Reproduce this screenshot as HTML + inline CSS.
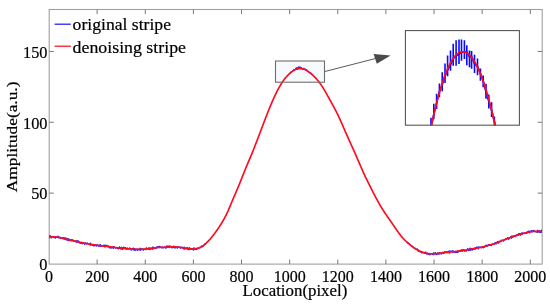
<!DOCTYPE html><html><head><meta charset="utf-8"><style>html,body{margin:0;padding:0;background:#fff;width:550px;height:305px;overflow:hidden}svg{display:block}</style></head><body><svg width="550" height="305" viewBox="0 0 550 305"><defs><clipPath id="cm"><rect x="49" y="9" width="493" height="255"/></clipPath><clipPath id="ci"><rect x="405.4" y="30.6" width="114.0" height="94.6"/></clipPath></defs><rect width="550" height="305" fill="#fff"/><rect x="275.5" y="61" width="49" height="21.2" fill="#f7fafd"/><rect x="49.2" y="9.5" width="493.00000000000006" height="254.60000000000002" fill="none" stroke="#a0a0a0" stroke-width="1.1"/><path d="M97.13,264.1v-4.6M97.13,9.5v4.6M145.26,264.1v-4.6M145.26,9.5v4.6M193.39,264.1v-4.6M193.39,9.5v4.6M241.52,264.1v-4.6M241.52,9.5v4.6M289.65,264.1v-4.6M289.65,9.5v4.6M337.78,264.1v-4.6M337.78,9.5v4.6M385.91,264.1v-4.6M385.91,9.5v4.6M434.04,264.1v-4.6M434.04,9.5v4.6M482.17,264.1v-4.6M482.17,9.5v4.6M530.30,264.1v-4.6M530.30,9.5v4.6M49.2,193.13h4.6M542.2,193.13h-4.6M49.2,122.27h4.6M542.2,122.27h-4.6M49.2,51.40h4.6M542.2,51.40h-4.6" stroke="#7a7a7a" stroke-width="1" fill="none"/><g clip-path="url(#cm)"><g fill="none" stroke="#2020ff" stroke-width="0.9" stroke-linejoin="round"><polyline points="49.00,238.66 49.25,235.46 49.50,237.40 49.75,236.50 50.00,236.58 50.25,236.77 50.50,235.36 50.75,236.72 51.00,236.13 51.25,238.49 51.50,237.08 51.75,236.55 52.00,236.60 52.25,236.24 52.50,235.88 52.75,236.47 53.00,237.25 53.25,236.60 53.50,237.68 53.75,236.64 54.00,236.85 54.25,238.22 54.50,237.33 54.75,236.41 55.00,236.71 55.25,237.38 55.50,238.50 55.75,236.71 56.00,236.76 56.25,237.89 56.50,236.26 56.75,236.82 57.00,237.89 57.25,237.66 57.50,237.28 57.75,237.83 58.00,235.75 58.25,238.22 58.50,236.56 58.75,236.01 59.00,237.74 59.25,238.15 59.50,237.23 59.75,236.75 60.00,237.75 60.25,237.74 60.50,239.04 60.75,238.55 61.00,238.14 61.25,238.98 61.50,237.92 61.75,237.37 62.00,238.72 62.25,238.78 62.50,238.16 62.75,237.74 63.00,238.66 63.25,237.01 63.50,239.17 63.75,239.06 64.00,237.30 64.25,238.81 64.50,237.99 64.75,239.52 65.00,237.40 65.25,238.19 65.50,239.64 65.75,240.08 66.00,237.62 66.25,238.77 66.50,239.53 66.75,238.78 67.00,240.73 67.25,238.39 67.50,239.77 67.75,238.62 68.00,240.79 68.25,239.61 68.50,239.36 68.75,238.26 69.00,241.24 69.25,240.49 69.50,240.55 69.75,240.93 70.00,240.30 70.25,239.51 70.50,239.42 70.75,239.48 71.00,241.40 71.25,239.02 71.50,239.82 71.75,240.11 72.00,240.63 72.25,240.99 72.50,239.47 72.75,239.12 73.00,240.65 73.25,241.75 73.50,241.42 73.75,241.01 74.00,240.61 74.25,241.19 74.50,240.78 74.75,241.75 75.00,240.43 75.25,241.28 75.50,241.13 75.75,241.74 76.00,241.53 76.25,242.91 76.50,242.73 76.75,242.79 77.00,240.06 77.25,241.35 77.50,241.18 77.75,242.21 78.00,240.31 78.25,242.88 78.50,242.85 78.75,240.89 79.00,241.23 79.25,241.44 79.50,242.22 79.75,242.79 80.00,243.82 80.25,242.20 80.50,243.08 80.75,242.62 81.00,244.04 81.25,243.23 81.50,243.83 81.75,241.80 82.00,242.61 82.25,242.13 82.50,244.18 82.75,243.51 83.00,242.74 83.25,242.66 83.50,243.52 83.75,242.55 84.00,242.41 84.25,243.68 84.50,244.85 84.75,243.15 85.00,242.92 85.25,242.44 85.50,242.34 85.75,244.00 86.00,244.33 86.25,243.64 86.50,243.96 86.75,243.82 87.00,243.88 87.25,242.45 87.50,243.43 87.75,243.97 88.00,243.22 88.25,243.52 88.50,243.26 88.75,243.72 89.00,244.80 89.25,243.73 89.50,243.99 89.75,244.87 90.00,244.76 90.25,245.72 90.50,242.69 90.75,245.05 91.00,243.90 91.25,244.48 91.50,245.13 91.75,245.38 92.00,245.38 92.25,244.63 92.50,245.95 92.75,244.32 93.00,244.48 93.25,245.34 93.50,244.19 93.75,246.28 94.00,245.65 94.25,246.35 94.50,244.81 94.75,244.53 95.00,245.06 95.25,245.59 95.50,244.48 95.75,245.37 96.00,245.06 96.25,246.53 96.50,244.58 96.75,246.12 97.00,244.68 97.25,244.45 97.50,244.71 97.75,244.33 98.00,245.54 98.25,246.36 98.50,245.64 98.75,246.08 99.00,247.01 99.25,245.85 99.50,245.82 99.75,245.44 100.00,244.30 100.25,246.42 100.50,244.23 100.75,246.40 101.00,245.84 101.25,246.88 101.50,245.85 101.75,245.21 102.00,246.29 102.25,245.50 102.50,245.87 102.75,246.09 103.00,245.96 103.25,245.94 103.50,245.40 103.75,245.99 104.00,244.61 104.25,246.07 104.50,245.17 104.75,247.26 105.00,247.42 105.25,244.73 105.50,246.47 105.75,246.25 106.00,245.46 106.25,246.89 106.50,246.03 106.75,244.89 107.00,246.26 107.25,246.39 107.50,246.64 107.75,245.48 108.00,247.15 108.25,247.28 108.50,245.64 108.75,246.10 109.00,246.64 109.25,246.24 109.50,248.32 109.75,246.98 110.00,245.93 110.25,246.16 110.50,246.83 110.75,248.49 111.00,246.79 111.25,247.09 111.50,247.46 111.75,247.00 112.00,248.64 112.25,246.63 112.50,247.79 112.75,247.30 113.00,247.74 113.25,246.18 113.50,248.82 113.75,247.17 114.00,247.34 114.25,246.51 114.50,246.73 114.75,247.90 115.00,248.31 115.25,248.13 115.50,248.57 115.75,248.16 116.00,247.58 116.25,248.33 116.50,248.14 116.75,247.55 117.00,248.32 117.25,248.84 117.50,247.94 117.75,247.44 118.00,248.42 118.25,249.39 118.50,247.65 118.75,247.78 119.00,247.77 119.25,249.01 119.50,246.36 119.75,248.30 120.00,249.06 120.25,247.30 120.50,249.38 120.75,248.55 121.00,247.61 121.25,248.31 121.50,246.78 121.75,247.67 122.00,249.78 122.25,247.43 122.50,249.83 122.75,248.20 123.00,249.18 123.25,248.36 123.50,246.76 123.75,247.86 124.00,248.56 124.25,247.39 124.50,247.24 124.75,248.79 125.00,247.90 125.25,246.99 125.50,247.92 125.75,249.32 126.00,248.15 126.25,249.43 126.50,249.99 126.75,248.67 127.00,247.66 127.25,247.53 127.50,248.69 127.75,249.52 128.00,249.00 128.25,249.27 128.50,248.41 128.75,249.09 129.00,248.43 129.25,248.58 129.50,247.74 129.75,247.51 130.00,248.50 130.25,247.97 130.50,248.12 130.75,249.60 131.00,248.92 131.25,250.63 131.50,249.88 131.75,248.51 132.00,249.79 132.25,249.43 132.50,248.52 132.75,250.14 133.00,248.47 133.25,247.59 133.50,249.91 133.75,248.66 134.00,250.56 134.25,248.66 134.50,248.20 134.75,250.66 135.00,248.32 135.25,249.48 135.50,250.61 135.75,249.42 136.00,249.26 136.25,249.43 136.50,250.11 136.75,248.63 137.00,249.92 137.25,249.89 137.50,250.98 137.75,249.08 138.00,248.57 138.25,250.06 138.50,249.04 138.75,249.66 139.00,249.52 139.25,250.45 139.50,248.80 139.75,249.31 140.00,247.79 140.25,248.58 140.50,250.75 140.75,248.75 141.00,248.72 141.25,248.25 141.50,249.85 141.75,249.47 142.00,248.24 142.25,249.88 142.50,249.50 142.75,249.92 143.00,248.66 143.25,250.76 143.50,249.56 143.75,249.06 144.00,248.68 144.25,248.90 144.50,249.86 144.75,248.83 145.00,250.00 145.25,249.53 145.50,250.19 145.75,249.69 146.00,248.88 146.25,247.33 146.50,249.14 146.75,249.54 147.00,248.96 147.25,249.27 147.50,248.33 147.75,248.38 148.00,247.85 148.25,249.86 148.50,248.76 148.75,248.15 149.00,247.38 149.25,248.39 149.50,249.76 149.75,248.86 150.00,247.78 150.25,249.65 150.50,249.62 150.75,249.19 151.00,248.99 151.25,249.28 151.50,248.71 151.75,248.88 152.00,247.47 152.25,249.46 152.50,248.30 152.75,249.64 153.00,246.46 153.25,248.63 153.50,248.85 153.75,247.64 154.00,248.32 154.25,248.55 154.50,248.37 154.75,247.35 155.00,247.68 155.25,248.68 155.50,248.89 155.75,247.81 156.00,247.77 156.25,247.85 156.50,248.57 156.75,246.68 157.00,246.42 157.25,247.69 157.50,246.57 157.75,247.01 158.00,247.60 158.25,247.93 158.50,246.52 158.75,248.18 159.00,245.86 159.25,247.92 159.50,246.00 159.75,246.26 160.00,247.97 160.25,247.01 160.50,246.65 160.75,246.95 161.00,247.76 161.25,247.28 161.50,247.29 161.75,248.25 162.00,246.65 162.25,246.86 162.50,246.80 162.75,248.31 163.00,248.14 163.25,248.40 163.50,247.20 163.75,247.08 164.00,247.98 164.25,246.85 164.50,247.94 164.75,247.84 165.00,246.55 165.25,247.09 165.50,247.05 165.75,248.70 166.00,248.73 166.25,247.03 166.50,247.12 166.75,245.50 167.00,247.28 167.25,247.07 167.50,246.10 167.75,247.75 168.00,245.63 168.25,246.82 168.50,247.13 168.75,245.87 169.00,247.74 169.25,247.91 169.50,245.70 169.75,245.67 170.00,247.46 170.25,246.88 170.50,245.80 170.75,246.62 171.00,246.77 171.25,246.73 171.50,247.60 171.75,247.19 172.00,248.43 172.25,248.07 172.50,247.44 172.75,247.79 173.00,248.01 173.25,247.46 173.50,245.72 173.75,247.60 174.00,246.90 174.25,248.30 174.50,246.94 174.75,247.34 175.00,247.17 175.25,248.40 175.50,247.06 175.75,246.68 176.00,247.22 176.25,246.57 176.50,247.12 176.75,247.00 177.00,247.27 177.25,248.63 177.50,246.71 177.75,247.14 178.00,246.95 178.25,247.76 178.50,246.14 178.75,246.61 179.00,247.22 179.25,247.77 179.50,247.28 179.75,246.91 180.00,246.62 180.25,247.87 180.50,248.73 180.75,247.78 181.00,247.69 181.25,247.96 181.50,246.77 181.75,247.37 182.00,247.44 182.25,247.98 182.50,247.73 182.75,246.73 183.00,248.82 183.25,249.36 183.50,247.68 183.75,248.31 184.00,248.23 184.25,248.72 184.50,246.78 184.75,249.53 185.00,247.74 185.25,249.30 185.50,248.30 185.75,247.93 186.00,248.18 186.25,249.14 186.50,247.62 186.75,248.09 187.00,248.03 187.25,246.98 187.50,249.68 187.75,249.08 188.00,248.58 188.25,249.66 188.50,247.82 188.75,248.63 189.00,250.26 189.25,249.63 189.50,247.21 189.75,247.23 190.00,247.92 190.25,249.81 190.50,248.47 190.75,248.71 191.00,249.47 191.25,248.15 191.50,249.15 191.75,249.69 192.00,249.40 192.25,249.35 192.50,248.46 192.75,249.47 193.00,248.62 193.25,250.18 193.50,250.60 193.75,248.33 194.00,247.39 194.25,248.59 194.50,249.29 194.75,249.87 195.00,249.87 195.25,248.18 195.50,248.15 195.75,249.93 196.00,247.82 196.25,249.68 196.50,248.49 196.75,249.30 197.00,249.18 197.25,249.18 197.50,249.15 197.75,247.56 198.00,248.56 198.25,248.25 198.50,248.40 198.75,249.05 199.00,247.76 199.25,247.33 199.50,247.22 199.75,247.43 200.00,248.11 200.25,246.84 200.50,248.14 200.75,247.39 201.00,246.89 201.25,246.00 201.50,246.93 201.75,247.08 202.00,245.32 202.25,247.07 202.50,247.18 202.75,246.19 203.00,246.10 203.25,246.69 203.50,246.17 203.75,244.75 204.00,245.06 204.25,244.79 204.50,244.59 204.75,243.52 205.00,244.66 205.25,243.72 205.50,243.91 205.75,243.54"/><polyline points="289.75,74.00 290.00,72.81 290.25,72.95 290.50,72.07 290.75,73.15 291.00,72.53 291.25,71.36 291.50,72.32 291.75,71.62 292.00,71.46 292.25,71.24 292.50,70.44 292.75,70.34 293.00,70.89 293.25,70.29 293.50,69.55 293.75,71.14 294.00,69.71 294.25,69.33 294.50,69.08 294.75,69.93 295.00,70.02 295.25,69.38 295.50,69.74 295.75,67.82 296.00,68.58 296.25,68.41 296.50,68.69 296.75,69.01 297.00,67.01 297.25,69.89 297.50,67.67 297.75,68.64 298.00,69.01 298.25,68.99 298.50,68.42 298.75,66.56 299.00,67.19 299.25,68.82 299.50,67.30 299.75,67.17 300.00,66.47 300.25,69.22 300.50,68.60 300.75,67.36 301.00,68.06 301.25,68.13 301.50,67.27 301.75,68.06 302.00,68.57 302.25,68.88 302.50,69.55 302.75,68.56 303.00,68.22 303.25,69.02 303.50,68.26 303.75,67.86 304.00,69.87 304.25,68.77 304.50,69.27 304.75,69.79 305.00,68.59 305.25,70.01 305.50,70.00 305.75,69.74 306.00,70.23 306.25,69.59 306.50,69.05 306.75,70.22 307.00,69.98 307.25,71.29 307.50,71.07 307.75,70.75 308.00,71.29 308.25,72.25 308.50,72.30 308.75,72.02 309.00,72.25 309.25,72.03 309.50,72.31 309.75,72.92 310.00,72.72 310.25,73.15 310.50,72.59 310.75,72.51 311.00,72.71 311.25,73.59 311.50,74.74 311.75,74.87 312.00,73.96 312.25,73.90 312.50,75.32 312.75,75.37"/><polyline points="407.25,241.63 407.50,243.00 407.75,243.12 408.00,243.89 408.25,242.68 408.50,242.82 408.75,244.10 409.00,242.99 409.25,243.74 409.50,243.76 409.75,244.01 410.00,243.82 410.25,244.84 410.50,245.69 410.75,245.61 411.00,245.82 411.25,245.58 411.50,246.77 411.75,246.47 412.00,246.96 412.25,245.69 412.50,246.95 412.75,246.28 413.00,247.33 413.25,247.43 413.50,246.82 413.75,247.77 414.00,248.55 414.25,248.32 414.50,248.55 414.75,247.81 415.00,248.08 415.25,247.96 415.50,248.92 415.75,249.76 416.00,249.42 416.25,249.29 416.50,248.69 416.75,249.88 417.00,249.56 417.25,248.63 417.50,248.80 417.75,249.89 418.00,249.63 418.25,251.57 418.50,250.54 418.75,249.89 419.00,250.41 419.25,252.05 419.50,250.30 419.75,251.69 420.00,251.55 420.25,252.45 420.50,251.85 420.75,251.24 421.00,252.05 421.25,251.80 421.50,252.61 421.75,251.89 422.00,253.44 422.25,252.04 422.50,252.56 422.75,251.76 423.00,252.48 423.25,252.48 423.50,252.67 423.75,253.35 424.00,252.24 424.25,252.05 424.50,253.75 424.75,252.65 425.00,252.39 425.25,253.99 425.50,253.74 425.75,251.59 426.00,252.86 426.25,253.91 426.50,254.01 426.75,252.89 427.00,254.74 427.25,252.73 427.50,253.26 427.75,253.61 428.00,253.53 428.25,254.28 428.50,254.50 428.75,253.59 429.00,254.90 429.25,253.07 429.50,253.51 429.75,255.25 430.00,253.83 430.25,254.71 430.50,253.38 430.75,253.54 431.00,253.69 431.25,253.95 431.50,253.50 431.75,253.82 432.00,254.40 432.25,254.88 432.50,253.90 432.75,254.38 433.00,254.60 433.25,252.82 433.50,252.37 433.75,255.21 434.00,254.93 434.25,253.79 434.50,254.04 434.75,252.87 435.00,252.46 435.25,253.95 435.50,252.33 435.75,254.44 436.00,253.00 436.25,253.85 436.50,255.12 436.75,255.10 437.00,253.27 437.25,254.44 437.50,252.55 437.75,252.92 438.00,253.74 438.25,254.61 438.50,252.85 438.75,253.81 439.00,253.39 439.25,252.15 439.50,253.12 439.75,254.54 440.00,253.10 440.25,253.60 440.50,253.86 440.75,252.44 441.00,254.15 441.25,254.36 441.50,254.41 441.75,254.13 442.00,252.53 442.25,252.39 442.50,252.19 442.75,252.05 443.00,252.11 443.25,253.66 443.50,254.05 443.75,252.16 444.00,253.41 444.25,251.55 444.50,252.35 444.75,251.72 445.00,251.13 445.25,252.59 445.50,252.59 445.75,252.13 446.00,251.99 446.25,251.56 446.50,252.28 446.75,251.84 447.00,252.56 447.25,251.25 447.50,252.49 447.75,252.72 448.00,253.34 448.25,253.14 448.50,252.35 448.75,251.55 449.00,250.54 449.25,252.10 449.50,253.33 449.75,253.53 450.00,250.43 450.25,251.33 450.50,251.66 450.75,251.02 451.00,252.09 451.25,251.93 451.50,251.41 451.75,251.81 452.00,250.40 452.25,250.93 452.50,250.97 452.75,252.54 453.00,250.27 453.25,251.50 453.50,252.36 453.75,251.59 454.00,252.34 454.25,251.01 454.50,251.95 454.75,252.34 455.00,253.09 455.25,252.13 455.50,252.73 455.75,251.45 456.00,251.50 456.25,252.78 456.50,251.88 456.75,252.59 457.00,251.93 457.25,252.85 457.50,252.82 457.75,250.48 458.00,252.76 458.25,251.55 458.50,251.56 458.75,251.01 459.00,251.72 459.25,250.06 459.50,250.37 459.75,250.31 460.00,251.21 460.25,251.74 460.50,251.55 460.75,251.19 461.00,250.31 461.25,249.24 461.50,251.12 461.75,250.86 462.00,251.01 462.25,251.92 462.50,250.46 462.75,250.41 463.00,248.96 463.25,251.00 463.50,250.43 463.75,249.78 464.00,250.73 464.25,249.44 464.50,249.84 464.75,251.80 465.00,250.89 465.25,251.00 465.50,250.80 465.75,250.66 466.00,250.22 466.25,251.54 466.50,249.90 466.75,250.56 467.00,249.69 467.25,249.53 467.50,248.22 467.75,248.17 468.00,251.05 468.25,250.95 468.50,249.23 468.75,249.53 469.00,250.05 469.25,248.60 469.50,250.96 469.75,248.47 470.00,248.70 470.25,247.72 470.50,250.56 470.75,249.25 471.00,250.57 471.25,248.23 471.50,249.36 471.75,249.09 472.00,249.15 472.25,250.48 472.50,250.44 472.75,250.06 473.00,248.46 473.25,249.55 473.50,249.90 473.75,249.17 474.00,249.14 474.25,249.02 474.50,247.77 474.75,248.73 475.00,249.88 475.25,247.56 475.50,248.47 475.75,249.09 476.00,247.12 476.25,248.15 476.50,246.74 476.75,247.66 477.00,246.91 477.25,247.32 477.50,247.63 477.75,247.77 478.00,247.79 478.25,246.37 478.50,249.26 478.75,247.59 479.00,246.83 479.25,247.19 479.50,247.95 479.75,246.77 480.00,247.22 480.25,247.13 480.50,247.94 480.75,246.78 481.00,247.76 481.25,247.62 481.50,247.13 481.75,248.26 482.00,247.16 482.25,246.08 482.50,247.28 482.75,247.07 483.00,246.87 483.25,247.03 483.50,248.27 483.75,246.91 484.00,247.03 484.25,246.37 484.50,247.61 484.75,246.40 485.00,245.70 485.25,245.28 485.50,246.68 485.75,246.79 486.00,244.77 486.25,245.43 486.50,246.49 486.75,246.75 487.00,244.72 487.25,245.41 487.50,246.37 487.75,245.16 488.00,245.16 488.25,245.01 488.50,244.30 488.75,245.36 489.00,245.51 489.25,244.01 489.50,245.20 489.75,245.97 490.00,245.15 490.25,245.70 490.50,244.38 490.75,245.92 491.00,244.04 491.25,246.13 491.50,244.19 491.75,243.90 492.00,243.68 492.25,244.02 492.50,243.88 492.75,243.65 493.00,243.88 493.25,244.64 493.50,244.75 493.75,243.66 494.00,244.88 494.25,242.97 494.50,242.87 494.75,242.71 495.00,244.03 495.25,242.21 495.50,242.26 495.75,244.31 496.00,244.56 496.25,244.17 496.50,241.84 496.75,242.92 497.00,243.47 497.25,242.79 497.50,241.36 497.75,242.25 498.00,241.10 498.25,241.36 498.50,243.58 498.75,242.63 499.00,240.88 499.25,240.75 499.50,242.14 499.75,241.22 500.00,242.02 500.25,240.98 500.50,241.21 500.75,241.45 501.00,240.37 501.25,239.70 501.50,240.03 501.75,240.31 502.00,240.59 502.25,240.59 502.50,240.49 502.75,240.83 503.00,239.64 503.25,241.32 503.50,241.52 503.75,240.32 504.00,240.08 504.25,240.81 504.50,240.24 504.75,239.79 505.00,239.41 505.25,238.87 505.50,238.43 505.75,239.77 506.00,240.09 506.25,238.23 506.50,238.91 506.75,239.04 507.00,238.44 507.25,238.08 507.50,238.27 507.75,237.10 508.00,238.35 508.25,238.07 508.50,239.63 508.75,238.86 509.00,237.75 509.25,237.92 509.50,239.20 509.75,239.02 510.00,237.80 510.25,237.46 510.50,236.32 510.75,237.12 511.00,237.16 511.25,236.61 511.50,238.49 511.75,235.62 512.00,236.82 512.25,237.17 512.50,237.10 512.75,238.01 513.00,235.45 513.25,235.89 513.50,236.48 513.75,236.42 514.00,235.91 514.25,235.52 514.50,236.91 514.75,235.12 515.00,235.41 515.25,236.95 515.50,237.11 515.75,236.33 516.00,234.84 516.25,234.77 516.50,234.64 516.75,234.37 517.00,234.87 517.25,236.17 517.50,235.23 517.75,234.35 518.00,234.25 518.25,233.85 518.50,235.72 518.75,233.21 519.00,234.80 519.25,233.31 519.50,233.55 519.75,233.12 520.00,235.07 520.25,234.13 520.50,235.62 520.75,233.19 521.00,233.07 521.25,234.40 521.50,234.31 521.75,233.53 522.00,232.24 522.25,234.84 522.50,234.04 522.75,233.83 523.00,232.92 523.25,233.90 523.50,232.82 523.75,233.26 524.00,233.00 524.25,234.16 524.50,232.63 524.75,232.68 525.00,233.85 525.25,233.04 525.50,232.77 525.75,232.52 526.00,233.48 526.25,232.05 526.50,232.95 526.75,234.06 527.00,232.78 527.25,231.70 527.50,231.29 527.75,232.39 528.00,231.16 528.25,230.78 528.50,231.45 528.75,231.11 529.00,232.76 529.25,230.69 529.50,233.27 529.75,231.20 530.00,231.91 530.25,232.35 530.50,231.91 530.75,232.30 531.00,230.76 531.25,230.09 531.50,231.38 531.75,230.03 532.00,230.97 532.25,232.29 532.50,231.25 532.75,230.87 533.00,230.37 533.25,231.10 533.50,231.19 533.75,229.91 534.00,231.58 534.25,230.34 534.50,231.49 534.75,230.88 535.00,232.18 535.25,232.05 535.50,231.29 535.75,231.18 536.00,231.68 536.25,232.53 536.50,232.25 536.75,231.44 537.00,231.59 537.25,232.73 537.50,229.84 537.75,231.81 538.00,230.51 538.25,232.55 538.50,230.89 538.75,231.24 539.00,230.36 539.25,231.36 539.50,232.07 539.75,232.86 540.00,230.22 540.25,230.97 540.50,232.99 540.75,232.22 541.00,231.37 541.25,231.85 541.50,229.80 541.75,232.84 542.00,231.53"/></g><polyline points="49.00,237.07 49.25,237.05 49.50,237.03 49.75,237.01 50.00,236.99 50.25,236.97 50.50,236.95 50.75,236.93 51.00,236.91 51.25,236.89 51.50,236.88 51.75,236.86 52.00,236.85 52.25,236.84 52.50,236.83 52.75,236.82 53.00,236.82 53.25,236.82 53.50,236.82 53.75,236.82 54.00,236.82 54.25,236.83 54.50,236.84 54.75,236.86 55.00,236.88 55.25,236.90 55.50,236.92 55.75,236.95 56.00,236.97 56.25,237.01 56.50,237.04 56.75,237.08 57.00,237.11 57.25,237.16 57.50,237.20 57.75,237.24 58.00,237.29 58.25,237.34 58.50,237.39 58.75,237.44 59.00,237.50 59.25,237.55 59.50,237.61 59.75,237.67 60.00,237.73 60.25,237.79 60.50,237.85 60.75,237.91 61.00,237.97 61.25,238.03 61.50,238.10 61.75,238.16 62.00,238.22 62.25,238.28 62.50,238.34 62.75,238.40 63.00,238.46 63.25,238.52 63.50,238.58 63.75,238.64 64.00,238.70 64.25,238.75 64.50,238.81 64.75,238.87 65.00,238.92 65.25,238.98 65.50,239.03 65.75,239.09 66.00,239.14 66.25,239.20 66.50,239.25 66.75,239.31 67.00,239.36 67.25,239.41 67.50,239.47 67.75,239.52 68.00,239.58 68.25,239.63 68.50,239.68 68.75,239.74 69.00,239.79 69.25,239.84 69.50,239.90 69.75,239.95 70.00,240.00 70.25,240.06 70.50,240.11 70.75,240.17 71.00,240.22 71.25,240.27 71.50,240.33 71.75,240.38 72.00,240.44 72.25,240.49 72.50,240.55 72.75,240.60 73.00,240.66 73.25,240.71 73.50,240.77 73.75,240.82 74.00,240.88 74.25,240.94 74.50,240.99 74.75,241.05 75.00,241.11 75.25,241.16 75.50,241.22 75.75,241.28 76.00,241.34 76.25,241.40 76.50,241.46 76.75,241.52 77.00,241.58 77.25,241.64 77.50,241.70 77.75,241.76 78.00,241.82 78.25,241.88 78.50,241.94 78.75,242.00 79.00,242.06 79.25,242.12 79.50,242.18 79.75,242.24 80.00,242.30 80.25,242.36 80.50,242.42 80.75,242.48 81.00,242.54 81.25,242.60 81.50,242.66 81.75,242.72 82.00,242.77 82.25,242.83 82.50,242.89 82.75,242.94 83.00,243.00 83.25,243.05 83.50,243.11 83.75,243.16 84.00,243.21 84.25,243.26 84.50,243.31 84.75,243.36 85.00,243.41 85.25,243.45 85.50,243.50 85.75,243.55 86.00,243.59 86.25,243.63 86.50,243.67 86.75,243.71 87.00,243.75 87.25,243.79 87.50,243.83 87.75,243.87 88.00,243.91 88.25,243.94 88.50,243.98 88.75,244.02 89.00,244.05 89.25,244.09 89.50,244.12 89.75,244.16 90.00,244.19 90.25,244.22 90.50,244.26 90.75,244.29 91.00,244.33 91.25,244.36 91.50,244.39 91.75,244.43 92.00,244.46 92.25,244.50 92.50,244.53 92.75,244.57 93.00,244.60 93.25,244.64 93.50,244.68 93.75,244.71 94.00,244.75 94.25,244.79 94.50,244.83 94.75,244.87 95.00,244.91 95.25,244.95 95.50,244.99 95.75,245.03 96.00,245.08 96.25,245.12 96.50,245.16 96.75,245.21 97.00,245.25 97.25,245.29 97.50,245.33 97.75,245.37 98.00,245.42 98.25,245.46 98.50,245.50 98.75,245.54 99.00,245.57 99.25,245.61 99.50,245.65 99.75,245.68 100.00,245.72 100.25,245.75 100.50,245.79 100.75,245.82 101.00,245.85 101.25,245.88 101.50,245.91 101.75,245.94 102.00,245.97 102.25,246.00 102.50,246.03 102.75,246.06 103.00,246.08 103.25,246.11 103.50,246.14 103.75,246.16 104.00,246.19 104.25,246.22 104.50,246.24 104.75,246.27 105.00,246.29 105.25,246.32 105.50,246.34 105.75,246.37 106.00,246.39 106.25,246.42 106.50,246.44 106.75,246.47 107.00,246.49 107.25,246.52 107.50,246.55 107.75,246.57 108.00,246.60 108.25,246.63 108.50,246.65 108.75,246.68 109.00,246.71 109.25,246.74 109.50,246.77 109.75,246.80 110.00,246.83 110.25,246.85 110.50,246.88 110.75,246.91 111.00,246.94 111.25,246.97 111.50,247.01 111.75,247.04 112.00,247.07 112.25,247.10 112.50,247.13 112.75,247.16 113.00,247.19 113.25,247.22 113.50,247.25 113.75,247.28 114.00,247.31 114.25,247.34 114.50,247.37 114.75,247.40 115.00,247.43 115.25,247.47 115.50,247.50 115.75,247.53 116.00,247.56 116.25,247.58 116.50,247.61 116.75,247.64 117.00,247.67 117.25,247.70 117.50,247.73 117.75,247.76 118.00,247.79 118.25,247.81 118.50,247.84 118.75,247.87 119.00,247.89 119.25,247.92 119.50,247.95 119.75,247.97 120.00,248.00 120.25,248.02 120.50,248.05 120.75,248.08 121.00,248.10 121.25,248.13 121.50,248.15 121.75,248.17 122.00,248.20 122.25,248.22 122.50,248.25 122.75,248.27 123.00,248.30 123.25,248.32 123.50,248.34 123.75,248.37 124.00,248.39 124.25,248.41 124.50,248.44 124.75,248.46 125.00,248.48 125.25,248.51 125.50,248.53 125.75,248.55 126.00,248.58 126.25,248.60 126.50,248.62 126.75,248.65 127.00,248.67 127.25,248.69 127.50,248.71 127.75,248.74 128.00,248.76 128.25,248.78 128.50,248.80 128.75,248.83 129.00,248.85 129.25,248.87 129.50,248.89 129.75,248.91 130.00,248.93 130.25,248.96 130.50,248.98 130.75,249.00 131.00,249.02 131.25,249.04 131.50,249.06 131.75,249.07 132.00,249.09 132.25,249.11 132.50,249.13 132.75,249.15 133.00,249.16 133.25,249.18 133.50,249.20 133.75,249.21 134.00,249.23 134.25,249.24 134.50,249.26 134.75,249.27 135.00,249.28 135.25,249.30 135.50,249.31 135.75,249.32 136.00,249.33 136.25,249.34 136.50,249.35 136.75,249.36 137.00,249.37 137.25,249.38 137.50,249.38 137.75,249.39 138.00,249.39 138.25,249.39 138.50,249.40 138.75,249.40 139.00,249.40 139.25,249.40 139.50,249.39 139.75,249.39 140.00,249.38 140.25,249.38 140.50,249.37 140.75,249.36 141.00,249.35 141.25,249.34 141.50,249.33 141.75,249.31 142.00,249.30 142.25,249.28 142.50,249.27 142.75,249.25 143.00,249.23 143.25,249.21 143.50,249.19 143.75,249.17 144.00,249.14 144.25,249.12 144.50,249.10 144.75,249.07 145.00,249.05 145.25,249.02 145.50,248.99 145.75,248.96 146.00,248.93 146.25,248.90 146.50,248.87 146.75,248.84 147.00,248.81 147.25,248.78 147.50,248.75 147.75,248.72 148.00,248.68 148.25,248.65 148.50,248.62 148.75,248.59 149.00,248.55 149.25,248.52 149.50,248.49 149.75,248.45 150.00,248.42 150.25,248.39 150.50,248.36 150.75,248.32 151.00,248.29 151.25,248.26 151.50,248.23 151.75,248.19 152.00,248.16 152.25,248.13 152.50,248.10 152.75,248.07 153.00,248.04 153.25,248.00 153.50,247.97 153.75,247.94 154.00,247.92 154.25,247.89 154.50,247.86 154.75,247.83 155.00,247.80 155.25,247.78 155.50,247.75 155.75,247.72 156.00,247.70 156.25,247.67 156.50,247.65 156.75,247.63 157.00,247.60 157.25,247.58 157.50,247.56 157.75,247.54 158.00,247.52 158.25,247.50 158.50,247.48 158.75,247.47 159.00,247.45 159.25,247.43 159.50,247.42 159.75,247.40 160.00,247.39 160.25,247.38 160.50,247.36 160.75,247.35 161.00,247.34 161.25,247.33 161.50,247.32 161.75,247.30 162.00,247.29 162.25,247.28 162.50,247.27 162.75,247.26 163.00,247.25 163.25,247.24 163.50,247.23 163.75,247.22 164.00,247.21 164.25,247.21 164.50,247.20 164.75,247.19 165.00,247.18 165.25,247.17 165.50,247.15 165.75,247.14 166.00,247.13 166.25,247.12 166.50,247.11 166.75,247.10 167.00,247.09 167.25,247.07 167.50,247.06 167.75,247.05 168.00,247.03 168.25,247.02 168.50,247.00 168.75,246.99 169.00,246.97 169.25,246.96 169.50,246.94 169.75,246.93 170.00,246.92 170.25,246.90 170.50,246.89 170.75,246.88 171.00,246.87 171.25,246.86 171.50,246.85 171.75,246.84 172.00,246.84 172.25,246.83 172.50,246.83 172.75,246.82 173.00,246.82 173.25,246.82 173.50,246.83 173.75,246.83 174.00,246.84 174.25,246.84 174.50,246.85 174.75,246.86 175.00,246.88 175.25,246.89 175.50,246.90 175.75,246.92 176.00,246.94 176.25,246.96 176.50,246.98 176.75,247.00 177.00,247.03 177.25,247.05 177.50,247.08 177.75,247.10 178.00,247.13 178.25,247.16 178.50,247.19 178.75,247.22 179.00,247.25 179.25,247.28 179.50,247.32 179.75,247.35 180.00,247.38 180.25,247.42 180.50,247.46 180.75,247.49 181.00,247.53 181.25,247.57 181.50,247.60 181.75,247.64 182.00,247.68 182.25,247.72 182.50,247.76 182.75,247.80 183.00,247.84 183.25,247.88 183.50,247.92 183.75,247.96 184.00,248.00 184.25,248.04 184.50,248.07 184.75,248.11 185.00,248.15 185.25,248.19 185.50,248.23 185.75,248.27 186.00,248.31 186.25,248.35 186.50,248.38 186.75,248.42 187.00,248.46 187.25,248.49 187.50,248.53 187.75,248.56 188.00,248.60 188.25,248.63 188.50,248.66 188.75,248.70 189.00,248.73 189.25,248.76 189.50,248.79 189.75,248.81 190.00,248.84 190.25,248.86 190.50,248.89 190.75,248.91 191.00,248.93 191.25,248.95 191.50,248.96 191.75,248.97 192.00,248.99 192.25,248.99 192.50,249.00 192.75,249.00 193.00,249.01 193.25,249.00 193.50,249.00 193.75,248.99 194.00,248.98 194.25,248.97 194.50,248.95 194.75,248.93 195.00,248.91 195.25,248.88 195.50,248.85 195.75,248.81 196.00,248.78 196.25,248.73 196.50,248.69 196.75,248.64 197.00,248.58 197.25,248.52 197.50,248.46 197.75,248.39 198.00,248.32 198.25,248.24 198.50,248.16 198.75,248.07 199.00,247.98 199.25,247.88 199.50,247.77 199.75,247.67 200.00,247.55 200.25,247.43 200.50,247.31 200.75,247.18 201.00,247.05 201.25,246.91 201.50,246.77 201.75,246.62 202.00,246.47 202.25,246.31 202.50,246.15 202.75,245.98 203.00,245.81 203.25,245.63 203.50,245.45 203.75,245.26 204.00,245.07 204.25,244.88 204.50,244.68 204.75,244.47 205.00,244.26 205.25,244.05 205.50,243.83 205.75,243.61 206.00,243.38 206.25,243.15 206.50,242.91 206.75,242.67 207.00,242.43 207.25,242.18 207.50,241.93 207.75,241.68 208.00,241.42 208.25,241.16 208.50,240.89 208.75,240.62 209.00,240.35 209.25,240.07 209.50,239.79 209.75,239.51 210.00,239.23 210.25,238.94 210.50,238.65 210.75,238.35 211.00,238.06 211.25,237.76 211.50,237.45 211.75,237.15 212.00,236.84 212.25,236.53 212.50,236.22 212.75,235.90 213.00,235.59 213.25,235.27 213.50,234.95 213.75,234.62 214.00,234.30 214.25,233.97 214.50,233.64 214.75,233.30 215.00,232.97 215.25,232.63 215.50,232.29 215.75,231.94 216.00,231.60 216.25,231.25 216.50,230.90 216.75,230.54 217.00,230.19 217.25,229.83 217.50,229.47 217.75,229.10 218.00,228.74 218.25,228.37 218.50,227.99 218.75,227.62 219.00,227.24 219.25,226.86 219.50,226.48 219.75,226.09 220.00,225.70 220.25,225.31 220.50,224.91 220.75,224.51 221.00,224.11 221.25,223.71 221.50,223.30 221.75,222.89 222.00,222.48 222.25,222.06 222.50,221.64 222.75,221.22 223.00,220.79 223.25,220.36 223.50,219.92 223.75,219.48 224.00,219.03 224.25,218.58 224.50,218.12 224.75,217.66 225.00,217.19 225.25,216.72 225.50,216.24 225.75,215.75 226.00,215.26 226.25,214.76 226.50,214.25 226.75,213.73 227.00,213.21 227.25,212.68 227.50,212.14 227.75,211.60 228.00,211.04 228.25,210.48 228.50,209.91 228.75,209.32 229.00,208.74 229.25,208.14 229.50,207.54 229.75,206.93 230.00,206.32 230.25,205.71 230.50,205.11 230.75,204.50 231.00,203.90 231.25,203.30 231.50,202.70 231.75,202.10 232.00,201.51 232.25,200.92 232.50,200.33 232.75,199.75 233.00,199.16 233.25,198.58 233.50,198.00 233.75,197.42 234.00,196.84 234.25,196.26 234.50,195.68 234.75,195.10 235.00,194.52 235.25,193.94 235.50,193.36 235.75,192.78 236.00,192.20 236.25,191.62 236.50,191.03 236.75,190.45 237.00,189.86 237.25,189.28 237.50,188.69 237.75,188.10 238.00,187.50 238.25,186.91 238.50,186.31 238.75,185.70 239.00,185.10 239.25,184.49 239.50,183.88 239.75,183.26 240.00,182.65 240.25,182.03 240.50,181.40 240.75,180.78 241.00,180.15 241.25,179.52 241.50,178.89 241.75,178.26 242.00,177.63 242.25,177.00 242.50,176.36 242.75,175.73 243.00,175.10 243.25,174.47 243.50,173.83 243.75,173.20 244.00,172.57 244.25,171.95 244.50,171.32 244.75,170.70 245.00,170.07 245.25,169.45 245.50,168.84 245.75,168.22 246.00,167.61 246.25,167.00 246.50,166.40 246.75,165.80 247.00,165.21 247.25,164.61 247.50,164.03 247.75,163.44 248.00,162.86 248.25,162.28 248.50,161.70 248.75,161.12 249.00,160.53 249.25,159.95 249.50,159.36 249.75,158.77 250.00,158.18 250.25,157.58 250.50,156.99 250.75,156.39 251.00,155.78 251.25,155.18 251.50,154.57 251.75,153.96 252.00,153.34 252.25,152.73 252.50,152.11 252.75,151.49 253.00,150.86 253.25,150.24 253.50,149.61 253.75,148.98 254.00,148.35 254.25,147.72 254.50,147.09 254.75,146.45 255.00,145.81 255.25,145.17 255.50,144.53 255.75,143.89 256.00,143.25 256.25,142.60 256.50,141.95 256.75,141.30 257.00,140.66 257.25,140.00 257.50,139.35 257.75,138.70 258.00,138.05 258.25,137.39 258.50,136.74 258.75,136.08 259.00,135.42 259.25,134.76 259.50,134.11 259.75,133.45 260.00,132.79 260.25,132.13 260.50,131.46 260.75,130.80 261.00,130.14 261.25,129.48 261.50,128.82 261.75,128.16 262.00,127.50 262.25,126.83 262.50,126.17 262.75,125.51 263.00,124.85 263.25,124.19 263.50,123.53 263.75,122.88 264.00,122.22 264.25,121.56 264.50,120.91 264.75,120.25 265.00,119.60 265.25,118.95 265.50,118.30 265.75,117.65 266.00,117.00 266.25,116.36 266.50,115.71 266.75,115.07 267.00,114.43 267.25,113.79 267.50,113.16 267.75,112.52 268.00,111.89 268.25,111.26 268.50,110.64 268.75,110.01 269.00,109.39 269.25,108.77 269.50,108.16 269.75,107.54 270.00,106.93 270.25,106.33 270.50,105.72 270.75,105.13 271.00,104.53 271.25,103.94 271.50,103.35 271.75,102.76 272.00,102.18 272.25,101.60 272.50,101.03 272.75,100.45 273.00,99.89 273.25,99.32 273.50,98.77 273.75,98.21 274.00,97.66 274.25,97.11 274.50,96.57 274.75,96.03 275.00,95.50 275.25,94.97 275.50,94.45 275.75,93.93 276.00,93.41 276.25,92.90 276.50,92.40 276.75,91.90 277.00,91.40 277.25,90.91 277.50,90.43 277.75,89.95 278.00,89.47 278.25,89.00 278.50,88.54 278.75,88.08 279.00,87.62 279.25,87.18 279.50,86.73 279.75,86.30 280.00,85.87 280.25,85.44 280.50,85.02 280.75,84.61 281.00,84.20 281.25,83.80 281.50,83.40 281.75,83.01 282.00,82.63 282.25,82.25 282.50,81.88 282.75,81.51 283.00,81.16 283.25,80.80 283.50,80.46 283.75,80.11 284.00,79.78 284.25,79.45 284.50,79.12 284.75,78.80 285.00,78.49 285.25,78.18 285.50,77.88 285.75,77.58 286.00,77.29 286.25,77.00 286.50,76.72 286.75,76.44 287.00,76.17 287.25,75.90 287.50,75.63 287.75,75.37 288.00,75.12 288.25,74.87 288.50,74.62 288.75,74.38 289.00,74.14 289.25,73.91 289.50,73.68 289.75,73.45 290.00,73.23 290.25,73.01 290.50,72.80 290.75,72.59 291.00,72.38 291.25,72.18 291.50,71.98 291.75,71.79 292.00,71.61 292.25,71.42 292.50,71.25 292.75,71.07 293.00,70.91 293.25,70.74 293.50,70.59 293.75,70.43 294.00,70.29 294.25,70.15 294.50,70.01 294.75,69.88 295.00,69.76 295.25,69.64 295.50,69.53 295.75,69.42 296.00,69.32 296.25,69.22 296.50,69.13 296.75,69.05 297.00,68.97 297.25,68.90 297.50,68.83 297.75,68.77 298.00,68.72 298.25,68.67 298.50,68.63 298.75,68.59 299.00,68.56 299.25,68.54 299.50,68.52 299.75,68.51 300.00,68.50 300.25,68.50 300.50,68.51 300.75,68.52 301.00,68.54 301.25,68.56 301.50,68.59 301.75,68.63 302.00,68.67 302.25,68.72 302.50,68.77 302.75,68.83 303.00,68.89 303.25,68.96 303.50,69.04 303.75,69.12 304.00,69.21 304.25,69.31 304.50,69.41 304.75,69.51 305.00,69.63 305.25,69.74 305.50,69.87 305.75,69.99 306.00,70.13 306.25,70.27 306.50,70.41 306.75,70.56 307.00,70.71 307.25,70.87 307.50,71.03 307.75,71.19 308.00,71.36 308.25,71.54 308.50,71.71 308.75,71.90 309.00,72.08 309.25,72.27 309.50,72.46 309.75,72.65 310.00,72.85 310.25,73.05 310.50,73.25 310.75,73.45 311.00,73.66 311.25,73.87 311.50,74.08 311.75,74.29 312.00,74.50 312.25,74.72 312.50,74.94 312.75,75.16 313.00,75.39 313.25,75.62 313.50,75.85 313.75,76.09 314.00,76.33 314.25,76.57 314.50,76.82 314.75,77.07 315.00,77.32 315.25,77.58 315.50,77.85 315.75,78.12 316.00,78.39 316.25,78.67 316.50,78.95 316.75,79.24 317.00,79.53 317.25,79.82 317.50,80.12 317.75,80.43 318.00,80.74 318.25,81.05 318.50,81.36 318.75,81.68 319.00,82.00 319.25,82.33 319.50,82.66 319.75,82.99 320.00,83.33 320.25,83.67 320.50,84.02 320.75,84.37 321.00,84.72 321.25,85.08 321.50,85.45 321.75,85.82 322.00,86.20 322.25,86.58 322.50,86.97 322.75,87.36 323.00,87.76 323.25,88.16 323.50,88.57 323.75,88.98 324.00,89.40 324.25,89.82 324.50,90.24 324.75,90.67 325.00,91.10 325.25,91.53 325.50,91.97 325.75,92.41 326.00,92.85 326.25,93.29 326.50,93.74 326.75,94.19 327.00,94.64 327.25,95.09 327.50,95.54 327.75,96.00 328.00,96.45 328.25,96.90 328.50,97.36 328.75,97.82 329.00,98.27 329.25,98.73 329.50,99.18 329.75,99.64 330.00,100.09 330.25,100.54 330.50,101.00 330.75,101.45 331.00,101.90 331.25,102.35 331.50,102.80 331.75,103.26 332.00,103.71 332.25,104.16 332.50,104.62 332.75,105.07 333.00,105.53 333.25,105.99 333.50,106.45 333.75,106.91 334.00,107.37 334.25,107.84 334.50,108.31 334.75,108.78 335.00,109.25 335.25,109.72 335.50,110.20 335.75,110.68 336.00,111.17 336.25,111.66 336.50,112.15 336.75,112.65 337.00,113.15 337.25,113.65 337.50,114.16 337.75,114.67 338.00,115.19 338.25,115.71 338.50,116.24 338.75,116.77 339.00,117.30 339.25,117.84 339.50,118.38 339.75,118.93 340.00,119.47 340.25,120.02 340.50,120.58 340.75,121.14 341.00,121.69 341.25,122.26 341.50,122.82 341.75,123.39 342.00,123.95 342.25,124.52 342.50,125.09 342.75,125.66 343.00,126.24 343.25,126.81 343.50,127.38 343.75,127.96 344.00,128.53 344.25,129.11 344.50,129.68 344.75,130.26 345.00,130.83 345.25,131.41 345.50,131.98 345.75,132.55 346.00,133.13 346.25,133.70 346.50,134.26 346.75,134.83 347.00,135.40 347.25,135.96 347.50,136.52 347.75,137.08 348.00,137.64 348.25,138.20 348.50,138.76 348.75,139.31 349.00,139.87 349.25,140.42 349.50,140.97 349.75,141.53 350.00,142.08 350.25,142.63 350.50,143.18 350.75,143.73 351.00,144.28 351.25,144.83 351.50,145.38 351.75,145.93 352.00,146.48 352.25,147.04 352.50,147.59 352.75,148.14 353.00,148.69 353.25,149.25 353.50,149.80 353.75,150.36 354.00,150.92 354.25,151.48 354.50,152.04 354.75,152.60 355.00,153.16 355.25,153.73 355.50,154.30 355.75,154.87 356.00,155.44 356.25,156.01 356.50,156.58 356.75,157.16 357.00,157.74 357.25,158.32 357.50,158.90 357.75,159.48 358.00,160.06 358.25,160.64 358.50,161.22 358.75,161.81 359.00,162.39 359.25,162.97 359.50,163.55 359.75,164.14 360.00,164.72 360.25,165.30 360.50,165.88 360.75,166.46 361.00,167.03 361.25,167.61 361.50,168.19 361.75,168.76 362.00,169.33 362.25,169.90 362.50,170.47 362.75,171.03 363.00,171.59 363.25,172.15 363.50,172.71 363.75,173.26 364.00,173.81 364.25,174.36 364.50,174.90 364.75,175.44 365.00,175.98 365.25,176.51 365.50,177.04 365.75,177.57 366.00,178.10 366.25,178.62 366.50,179.14 366.75,179.66 367.00,180.17 367.25,180.68 367.50,181.20 367.75,181.70 368.00,182.21 368.25,182.71 368.50,183.22 368.75,183.72 369.00,184.22 369.25,184.72 369.50,185.21 369.75,185.71 370.00,186.20 370.25,186.70 370.50,187.19 370.75,187.68 371.00,188.17 371.25,188.66 371.50,189.15 371.75,189.64 372.00,190.13 372.25,190.62 372.50,191.10 372.75,191.59 373.00,192.08 373.25,192.56 373.50,193.05 373.75,193.53 374.00,194.02 374.25,194.50 374.50,194.98 374.75,195.46 375.00,195.94 375.25,196.41 375.50,196.89 375.75,197.36 376.00,197.83 376.25,198.30 376.50,198.77 376.75,199.24 377.00,199.70 377.25,200.16 377.50,200.62 377.75,201.08 378.00,201.54 378.25,201.99 378.50,202.44 378.75,202.88 379.00,203.33 379.25,203.77 379.50,204.21 379.75,204.64 380.00,205.07 380.25,205.50 380.50,205.93 380.75,206.35 381.00,206.77 381.25,207.18 381.50,207.59 381.75,208.00 382.00,208.41 382.25,208.81 382.50,209.21 382.75,209.60 383.00,210.00 383.25,210.39 383.50,210.78 383.75,211.16 384.00,211.55 384.25,211.93 384.50,212.31 384.75,212.68 385.00,213.06 385.25,213.43 385.50,213.81 385.75,214.18 386.00,214.54 386.25,214.91 386.50,215.28 386.75,215.64 387.00,216.00 387.25,216.37 387.50,216.73 387.75,217.09 388.00,217.45 388.25,217.80 388.50,218.16 388.75,218.52 389.00,218.88 389.25,219.23 389.50,219.59 389.75,219.95 390.00,220.30 390.25,220.66 390.50,221.02 390.75,221.37 391.00,221.73 391.25,222.09 391.50,222.44 391.75,222.80 392.00,223.16 392.25,223.52 392.50,223.88 392.75,224.25 393.00,224.61 393.25,224.97 393.50,225.34 393.75,225.71 394.00,226.07 394.25,226.44 394.50,226.81 394.75,227.18 395.00,227.55 395.25,227.91 395.50,228.28 395.75,228.65 396.00,229.02 396.25,229.38 396.50,229.75 396.75,230.11 397.00,230.47 397.25,230.83 397.50,231.19 397.75,231.54 398.00,231.90 398.25,232.25 398.50,232.60 398.75,232.94 399.00,233.29 399.25,233.62 399.50,233.96 399.75,234.29 400.00,234.62 400.25,234.95 400.50,235.27 400.75,235.58 401.00,235.89 401.25,236.20 401.50,236.50 401.75,236.80 402.00,237.09 402.25,237.38 402.50,237.66 402.75,237.94 403.00,238.22 403.25,238.49 403.50,238.75 403.75,239.02 404.00,239.28 404.25,239.53 404.50,239.79 404.75,240.04 405.00,240.28 405.25,240.53 405.50,240.77 405.75,241.01 406.00,241.24 406.25,241.48 406.50,241.71 406.75,241.94 407.00,242.16 407.25,242.39 407.50,242.61 407.75,242.83 408.00,243.05 408.25,243.27 408.50,243.49 408.75,243.70 409.00,243.92 409.25,244.13 409.50,244.34 409.75,244.55 410.00,244.76 410.25,244.97 410.50,245.18 410.75,245.38 411.00,245.58 411.25,245.79 411.50,245.99 411.75,246.18 412.00,246.38 412.25,246.57 412.50,246.76 412.75,246.95 413.00,247.13 413.25,247.31 413.50,247.49 413.75,247.67 414.00,247.85 414.25,248.02 414.50,248.18 414.75,248.35 415.00,248.51 415.25,248.67 415.50,248.83 415.75,248.99 416.00,249.14 416.25,249.29 416.50,249.44 416.75,249.58 417.00,249.72 417.25,249.86 417.50,250.00 417.75,250.13 418.00,250.26 418.25,250.39 418.50,250.52 418.75,250.64 419.00,250.76 419.25,250.88 419.50,251.00 419.75,251.11 420.00,251.22 420.25,251.33 420.50,251.44 420.75,251.54 421.00,251.64 421.25,251.74 421.50,251.84 421.75,251.93 422.00,252.03 422.25,252.12 422.50,252.20 422.75,252.29 423.00,252.37 423.25,252.45 423.50,252.53 423.75,252.60 424.00,252.68 424.25,252.75 424.50,252.81 424.75,252.88 425.00,252.94 425.25,253.00 425.50,253.06 425.75,253.12 426.00,253.17 426.25,253.22 426.50,253.27 426.75,253.32 427.00,253.36 427.25,253.41 427.50,253.45 427.75,253.48 428.00,253.52 428.25,253.55 428.50,253.58 428.75,253.61 429.00,253.64 429.25,253.66 429.50,253.68 429.75,253.70 430.00,253.72 430.25,253.73 430.50,253.74 430.75,253.75 431.00,253.76 431.25,253.77 431.50,253.77 431.75,253.77 432.00,253.78 432.25,253.77 432.50,253.77 432.75,253.77 433.00,253.76 433.25,253.75 433.50,253.74 433.75,253.73 434.00,253.72 434.25,253.71 434.50,253.69 434.75,253.68 435.00,253.66 435.25,253.64 435.50,253.62 435.75,253.60 436.00,253.58 436.25,253.56 436.50,253.54 436.75,253.51 437.00,253.49 437.25,253.46 437.50,253.44 437.75,253.41 438.00,253.38 438.25,253.36 438.50,253.33 438.75,253.30 439.00,253.27 439.25,253.25 439.50,253.22 439.75,253.19 440.00,253.16 440.25,253.13 440.50,253.10 440.75,253.07 441.00,253.04 441.25,253.01 441.50,252.98 441.75,252.95 442.00,252.92 442.25,252.89 442.50,252.86 442.75,252.83 443.00,252.80 443.25,252.77 443.50,252.74 443.75,252.71 444.00,252.68 444.25,252.65 444.50,252.62 444.75,252.59 445.00,252.56 445.25,252.53 445.50,252.50 445.75,252.47 446.00,252.44 446.25,252.41 446.50,252.39 446.75,252.36 447.00,252.33 447.25,252.31 447.50,252.28 447.75,252.25 448.00,252.23 448.25,252.20 448.50,252.17 448.75,252.15 449.00,252.12 449.25,252.09 449.50,252.07 449.75,252.04 450.00,252.02 450.25,251.99 450.50,251.97 450.75,251.94 451.00,251.92 451.25,251.89 451.50,251.86 451.75,251.84 452.00,251.81 452.25,251.79 452.50,251.76 452.75,251.74 453.00,251.71 453.25,251.69 453.50,251.66 453.75,251.64 454.00,251.61 454.25,251.59 454.50,251.56 454.75,251.53 455.00,251.51 455.25,251.48 455.50,251.46 455.75,251.43 456.00,251.40 456.25,251.37 456.50,251.35 456.75,251.32 457.00,251.29 457.25,251.27 457.50,251.24 457.75,251.21 458.00,251.18 458.25,251.15 458.50,251.12 458.75,251.09 459.00,251.06 459.25,251.03 459.50,251.00 459.75,250.97 460.00,250.94 460.25,250.91 460.50,250.87 460.75,250.84 461.00,250.81 461.25,250.77 461.50,250.74 461.75,250.70 462.00,250.67 462.25,250.63 462.50,250.60 462.75,250.56 463.00,250.52 463.25,250.48 463.50,250.45 463.75,250.41 464.00,250.37 464.25,250.33 464.50,250.29 464.75,250.24 465.00,250.20 465.25,250.16 465.50,250.12 465.75,250.07 466.00,250.03 466.25,249.99 466.50,249.94 466.75,249.90 467.00,249.86 467.25,249.81 467.50,249.77 467.75,249.72 468.00,249.68 468.25,249.63 468.50,249.59 468.75,249.54 469.00,249.50 469.25,249.45 469.50,249.41 469.75,249.36 470.00,249.32 470.25,249.27 470.50,249.23 470.75,249.18 471.00,249.14 471.25,249.09 471.50,249.05 471.75,249.01 472.00,248.96 472.25,248.92 472.50,248.88 472.75,248.84 473.00,248.80 473.25,248.75 473.50,248.71 473.75,248.67 474.00,248.63 474.25,248.59 474.50,248.55 474.75,248.51 475.00,248.47 475.25,248.43 475.50,248.39 475.75,248.35 476.00,248.30 476.25,248.26 476.50,248.22 476.75,248.18 477.00,248.14 477.25,248.09 477.50,248.05 477.75,248.01 478.00,247.96 478.25,247.92 478.50,247.87 478.75,247.82 479.00,247.78 479.25,247.73 479.50,247.68 479.75,247.63 480.00,247.58 480.25,247.53 480.50,247.48 480.75,247.43 481.00,247.37 481.25,247.32 481.50,247.26 481.75,247.20 482.00,247.14 482.25,247.09 482.50,247.02 482.75,246.96 483.00,246.90 483.25,246.84 483.50,246.77 483.75,246.71 484.00,246.64 484.25,246.58 484.50,246.51 484.75,246.44 485.00,246.38 485.25,246.31 485.50,246.24 485.75,246.17 486.00,246.10 486.25,246.03 486.50,245.96 486.75,245.89 487.00,245.82 487.25,245.75 487.50,245.68 487.75,245.61 488.00,245.54 488.25,245.46 488.50,245.39 488.75,245.32 489.00,245.25 489.25,245.18 489.50,245.11 489.75,245.04 490.00,244.97 490.25,244.91 490.50,244.84 490.75,244.77 491.00,244.70 491.25,244.64 491.50,244.57 491.75,244.50 492.00,244.43 492.25,244.37 492.50,244.30 492.75,244.23 493.00,244.16 493.25,244.09 493.50,244.02 493.75,243.94 494.00,243.87 494.25,243.79 494.50,243.71 494.75,243.63 495.00,243.55 495.25,243.46 495.50,243.38 495.75,243.29 496.00,243.20 496.25,243.11 496.50,243.01 496.75,242.92 497.00,242.82 497.25,242.72 497.50,242.62 497.75,242.52 498.00,242.42 498.25,242.32 498.50,242.21 498.75,242.11 499.00,242.01 499.25,241.90 499.50,241.80 499.75,241.69 500.00,241.59 500.25,241.48 500.50,241.37 500.75,241.27 501.00,241.16 501.25,241.06 501.50,240.96 501.75,240.85 502.00,240.75 502.25,240.65 502.50,240.55 502.75,240.45 503.00,240.34 503.25,240.24 503.50,240.14 503.75,240.04 504.00,239.95 504.25,239.85 504.50,239.75 504.75,239.65 505.00,239.55 505.25,239.46 505.50,239.36 505.75,239.26 506.00,239.17 506.25,239.07 506.50,238.97 506.75,238.88 507.00,238.79 507.25,238.69 507.50,238.60 507.75,238.50 508.00,238.41 508.25,238.32 508.50,238.22 508.75,238.13 509.00,238.04 509.25,237.94 509.50,237.85 509.75,237.76 510.00,237.67 510.25,237.58 510.50,237.49 510.75,237.40 511.00,237.30 511.25,237.21 511.50,237.12 511.75,237.03 512.00,236.94 512.25,236.85 512.50,236.77 512.75,236.68 513.00,236.59 513.25,236.50 513.50,236.41 513.75,236.32 514.00,236.24 514.25,236.15 514.50,236.06 514.75,235.98 515.00,235.89 515.25,235.81 515.50,235.72 515.75,235.64 516.00,235.56 516.25,235.47 516.50,235.39 516.75,235.31 517.00,235.23 517.25,235.14 517.50,235.06 517.75,234.98 518.00,234.91 518.25,234.83 518.50,234.75 518.75,234.67 519.00,234.59 519.25,234.52 519.50,234.44 519.75,234.37 520.00,234.29 520.25,234.22 520.50,234.15 520.75,234.07 521.00,234.00 521.25,233.93 521.50,233.86 521.75,233.79 522.00,233.72 522.25,233.65 522.50,233.59 522.75,233.52 523.00,233.45 523.25,233.39 523.50,233.32 523.75,233.26 524.00,233.19 524.25,233.13 524.50,233.07 524.75,233.01 525.00,232.95 525.25,232.89 525.50,232.83 525.75,232.77 526.00,232.71 526.25,232.65 526.50,232.59 526.75,232.54 527.00,232.48 527.25,232.42 527.50,232.37 527.75,232.31 528.00,232.26 528.25,232.21 528.50,232.16 528.75,232.10 529.00,232.05 529.25,232.00 529.50,231.95 529.75,231.91 530.00,231.86 530.25,231.81 530.50,231.77 530.75,231.73 531.00,231.69 531.25,231.65 531.50,231.61 531.75,231.58 532.00,231.55 532.25,231.52 532.50,231.49 532.75,231.47 533.00,231.45 533.25,231.43 533.50,231.41 533.75,231.40 534.00,231.38 534.25,231.38 534.50,231.37 534.75,231.36 535.00,231.36 535.25,231.35 535.50,231.35 535.75,231.35 536.00,231.35 536.25,231.35 536.50,231.36 536.75,231.36 537.00,231.36 537.25,231.36 537.50,231.37 537.75,231.37 538.00,231.37 538.25,231.38 538.50,231.38 538.75,231.38 539.00,231.38 539.25,231.38 539.50,231.39 539.75,231.39 540.00,231.39 540.25,231.39 540.50,231.39 540.75,231.39 541.00,231.40 541.25,231.40 541.50,231.40 541.75,231.40 542.00,231.40" fill="none" stroke="#ff0a1e" stroke-width="1.65" stroke-linejoin="round"/></g><rect x="275.5" y="61" width="49" height="21.2" fill="none" stroke="#6e6e6e" stroke-width="1.1"/><line x1="324.5" y1="71.6" x2="376" y2="58.4" stroke="#5a5a5a" stroke-width="1.0"/><polygon points="390.6,55.4 373.6,54.1 376.8,63.7" fill="#4a4a4a"/><rect x="405.4" y="30.6" width="114.0" height="94.6" fill="#fff"/><g clip-path="url(#ci)"><path d="M431.00,117.66V134.32M433.80,103.80V119.18M436.60,93.75V109.01M439.40,83.53V97.30M442.20,72.18V91.24M445.00,63.50V82.91M447.60,55.50V76.23M450.50,50.40V70.67M453.20,43.80V65.74M456.10,40.20V65.85M459.00,39.50V63.95M461.50,39.50V60.77M464.40,40.20V58.98M466.80,45.30V65.35M469.50,50.40V67.28M471.60,51.10V68.73M474.50,54.70V73.02M477.50,58.40V75.27M480.40,68.50V80.65M483.20,75.54V87.31M486.00,83.77V98.79M488.80,94.51V108.61M491.60,102.35V117.01M494.40,116.46V127.54M497.20,129.26V140.87M500.00,143.67V154.94" fill="none" stroke="#0a0aff" stroke-width="1.6"/><polyline points="431.00,127.55 433.80,113.97 436.60,103.10 439.40,91.44 442.20,85.05 445.00,76.08 447.60,70.14 450.50,64.91 453.20,58.84 456.10,55.80 459.00,54.24 461.50,52.09 464.40,52.07 466.80,51.81 469.50,57.06 471.60,56.58 474.50,64.06 477.50,66.29 480.40,73.39 483.20,80.67 486.00,92.35 488.80,101.62 491.60,110.32 494.40,121.64 497.20,133.81 500.00,147.67" fill="none" stroke="#0a0aff" stroke-width="1.6"/><polyline points="425.00,159.13 425.50,156.29 426.00,153.49 426.50,150.73 427.00,148.01 427.50,145.33 428.00,142.68 428.50,140.08 429.00,137.51 429.50,134.97 430.00,132.48 430.50,130.02 431.00,127.61 431.50,125.23 432.00,122.89 432.50,120.58 433.00,118.31 433.50,116.09 434.00,113.90 434.50,111.74 435.00,109.63 435.50,107.55 436.00,105.52 436.50,103.51 437.00,101.55 437.50,99.63 438.00,97.74 438.50,95.89 439.00,94.08 439.50,92.31 440.00,90.58 440.50,88.88 441.00,87.22 441.50,85.60 442.00,84.02 442.50,82.47 443.00,80.96 443.50,79.50 444.00,78.06 444.50,76.67 445.00,75.32 445.50,74.00 446.00,72.72 446.50,71.48 447.00,70.28 447.50,69.11 448.00,67.98 448.50,66.89 449.00,65.84 449.50,64.83 450.00,63.85 450.50,62.91 451.00,62.02 451.50,61.15 452.00,60.33 452.50,59.54 453.00,58.80 453.50,58.09 454.00,57.41 454.50,56.78 455.00,56.18 455.50,55.63 456.00,55.11 456.50,54.62 457.00,54.18 457.50,53.77 458.00,53.41 458.50,53.08 459.00,52.78 459.50,52.53 460.00,52.31 460.50,52.13 461.00,51.99 461.50,51.89 462.00,51.83 462.50,51.80 463.00,51.81 463.50,51.86 464.00,51.94 464.50,52.05 465.00,52.20 465.50,52.38 466.00,52.60 466.50,52.86 467.00,53.15 467.50,53.47 468.00,53.83 468.50,54.22 469.00,54.65 469.50,55.11 470.00,55.61 470.50,56.14 471.00,56.71 471.50,57.31 472.00,57.94 472.50,58.62 473.00,59.32 473.50,60.06 474.00,60.84 474.50,61.65 475.00,62.49 475.50,63.37 476.00,64.29 476.50,65.24 477.00,66.22 477.50,67.24 478.00,68.29 478.50,69.38 479.00,70.50 479.50,71.66 480.00,72.85 480.50,74.08 481.00,75.34 481.50,76.64 482.00,77.97 482.50,79.34 483.00,80.74 483.50,82.17 484.00,83.64 484.50,85.15 485.00,86.69 485.50,88.27 486.00,89.88 486.50,91.52 487.00,93.20 487.50,94.91 488.00,96.66 488.50,98.45 489.00,100.26 489.50,102.12 490.00,104.00 490.50,105.93 491.00,107.88 491.50,109.88 492.00,111.90 492.50,113.97 493.00,116.06 493.50,118.19 494.00,120.36 494.50,122.56 495.00,124.80 495.50,127.07 496.00,129.37 496.50,131.71 497.00,134.09 497.50,136.50 498.00,138.94 498.50,141.42 499.00,143.93 499.50,146.48 500.00,149.06 500.50,151.68 501.00,154.33 501.50,157.02" fill="none" stroke="#ff0a1e" stroke-width="1.8"/></g><rect x="405.4" y="30.6" width="114.0" height="94.6" fill="none" stroke="#505050" stroke-width="1.05"/><line x1="54.6" y1="24.2" x2="70.8" y2="24.2" stroke="#1a1aff" stroke-width="1.25"/><line x1="54.6" y1="46.2" x2="70.8" y2="46.2" stroke="#ff1020" stroke-width="1.25"/><text x="72.6" y="30" font-family="Liberation Serif, serif" fill="#000" stroke="#000" stroke-width="0.2" font-size="17" textLength="98.4" lengthAdjust="spacingAndGlyphs">original stripe</text><text x="72.6" y="52.6" font-family="Liberation Serif, serif" fill="#000" stroke="#000" stroke-width="0.2" font-size="17" textLength="113.4" lengthAdjust="spacingAndGlyphs">denoising stripe</text><text x="49.00" y="282" font-family="Liberation Serif, serif" fill="#000" stroke="#000" stroke-width="0.2" font-size="16" text-anchor="middle">0</text><text x="97.13" y="282" font-family="Liberation Serif, serif" fill="#000" stroke="#000" stroke-width="0.2" font-size="16" text-anchor="middle">200</text><text x="145.26" y="282" font-family="Liberation Serif, serif" fill="#000" stroke="#000" stroke-width="0.2" font-size="16" text-anchor="middle">400</text><text x="193.39" y="282" font-family="Liberation Serif, serif" fill="#000" stroke="#000" stroke-width="0.2" font-size="16" text-anchor="middle">600</text><text x="241.52" y="282" font-family="Liberation Serif, serif" fill="#000" stroke="#000" stroke-width="0.2" font-size="16" text-anchor="middle">800</text><text x="289.65" y="282" font-family="Liberation Serif, serif" fill="#000" stroke="#000" stroke-width="0.2" font-size="16" text-anchor="middle">1000</text><text x="337.78" y="282" font-family="Liberation Serif, serif" fill="#000" stroke="#000" stroke-width="0.2" font-size="16" text-anchor="middle">1200</text><text x="385.91" y="282" font-family="Liberation Serif, serif" fill="#000" stroke="#000" stroke-width="0.2" font-size="16" text-anchor="middle">1400</text><text x="434.04" y="282" font-family="Liberation Serif, serif" fill="#000" stroke="#000" stroke-width="0.2" font-size="16" text-anchor="middle">1600</text><text x="482.17" y="282" font-family="Liberation Serif, serif" fill="#000" stroke="#000" stroke-width="0.2" font-size="16" text-anchor="middle">1800</text><text x="530.30" y="282" font-family="Liberation Serif, serif" fill="#000" stroke="#000" stroke-width="0.2" font-size="16" text-anchor="middle">2000</text><text x="47.5" y="270.30" font-family="Liberation Serif, serif" fill="#000" stroke="#000" stroke-width="0.2" font-size="16.3" text-anchor="end">0</text><text x="47.5" y="199.43" font-family="Liberation Serif, serif" fill="#000" stroke="#000" stroke-width="0.2" font-size="16.3" text-anchor="end">50</text><text x="47.5" y="128.57" font-family="Liberation Serif, serif" fill="#000" stroke="#000" stroke-width="0.2" font-size="16.3" text-anchor="end">100</text><text x="47.5" y="57.70" font-family="Liberation Serif, serif" fill="#000" stroke="#000" stroke-width="0.2" font-size="16.3" text-anchor="end">150</text><text x="242.5" y="296" font-family="Liberation Serif, serif" fill="#000" stroke="#000" stroke-width="0.2" font-size="16" textLength="104.8" lengthAdjust="spacingAndGlyphs">Location(pixel)</text><text transform="translate(16.8,192.3) rotate(-90)" x="0" y="0" font-family="Liberation Serif, serif" fill="#000" stroke="#000" stroke-width="0.2" font-size="15.5" textLength="110.8" lengthAdjust="spacingAndGlyphs">Amplitude(a.u.)</text></svg></body></html>
